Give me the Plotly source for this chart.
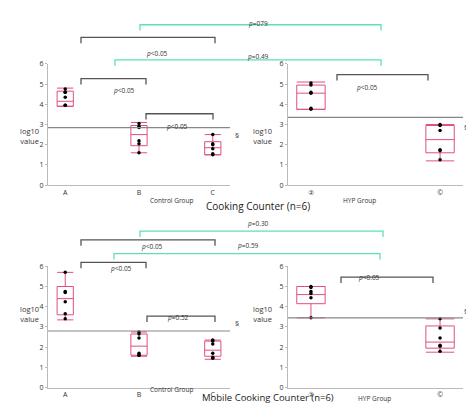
import plotly.graph_objects as go
from plotly.subplots import make_subplots

W, H = 474, 409

ctrl_cats = ["A", "B", "C"]
hyp_cats = ["②", "©"]

# Cooking Counter
cc_ctrl_pts = [[4.75, 4.6, 4.6, 4.35, 3.95, 3.95],
               [3.05, 2.9, 2.85, 2.2, 2.05, 1.6],
               [2.5, 2.05, 2.0, 1.8, 1.55, 1.5]]
cc_ctrl_box = dict(q1=[3.9, 1.95, 1.5], median=[4.15, 2.5, 1.85], q3=[4.65, 2.95, 2.15],
                   lowerfence=[3.9, 1.6, 1.5], upperfence=[4.8, 3.1, 2.5])
cc_hyp_pts = [[5.05, 4.95, 4.6, 4.55, 3.8, 3.75],
              [3.0, 2.95, 2.7, 1.75, 1.7, 1.25]]
cc_hyp_box = dict(q1=[3.75, 1.6], median=[4.55, 2.25], q3=[4.95, 2.95],
                  lowerfence=[3.75, 1.2], upperfence=[5.1, 3.0])
cc_ref = [2.85, 3.35]

# Mobile Cooking Counter
mc_ctrl_pts = [[5.7, 4.75, 4.7, 4.25, 3.65, 3.4],
               [2.75, 2.65, 2.45, 1.7, 1.6, 1.6],
               [2.35, 2.3, 2.15, 1.7, 1.5, 1.45]]
mc_ctrl_box = dict(q1=[3.6, 1.6, 1.55], median=[4.4, 2.05, 1.85], q3=[5.0, 2.65, 2.3],
                   lowerfence=[3.35, 1.55, 1.4], upperfence=[5.7, 2.75, 2.35])
mc_hyp_pts = [[5.0, 4.95, 4.75, 4.65, 4.45, 3.45],
              [3.4, 2.95, 2.45, 2.1, 2.05, 1.8]]
mc_hyp_box = dict(q1=[4.15, 1.95], median=[4.6, 2.25], q3=[5.0, 3.05],
                  lowerfence=[3.45, 1.75], upperfence=[5.0, 3.4])
mc_ref = [2.8, 3.45]

PINK = "#e0507a"
GRAY = "#555555"
TEAL = "#5fe0b8"

fig = make_subplots(rows=2, cols=2)

def panel(row, col, cats, pts, box, ref):
    fig.add_trace(go.Box(x=cats, q1=box["q1"], median=box["median"], q3=box["q3"],
                         lowerfence=box["lowerfence"], upperfence=box["upperfence"],
                         fillcolor="rgba(0,0,0,0)", line=dict(color=PINK, width=1),
                         width=0.22, whiskerwidth=1, boxpoints=False, showlegend=False),
                  row=row, col=col)
    xs = [c for c, p in zip(cats, pts) for _ in p]
    ys = [v for p in pts for v in p]
    fig.add_trace(go.Scatter(x=xs, y=ys, mode="markers", showlegend=False,
                             marker=dict(color="black", size=3.5)), row=row, col=col)
    fig.add_hline(y=ref, line=dict(color="#888888", width=1.2), row=row, col=col)

panel(1, 1, ctrl_cats, cc_ctrl_pts, cc_ctrl_box, cc_ref[0])
panel(1, 2, hyp_cats, cc_hyp_pts, cc_hyp_box, cc_ref[1])
panel(2, 1, ctrl_cats, mc_ctrl_pts, mc_ctrl_box, mc_ref[0])
panel(2, 2, hyp_cats, mc_hyp_pts, mc_hyp_box, mc_ref[1])

def px(x):
    return x / W

def py(y):
    return 1 - y / H

xdom = {1: [px(40), px(222)], 2: [px(280), px(455)]}
ydom = {1: [py(176), py(52)], 2: [py(383), py(259)]}
for r in (1, 2):
    for c in (1, 2):
        fig.update_xaxes(domain=xdom[c], row=r, col=c, showline=True, linecolor="#bbbbbb",
                         ticks="", tickfont=dict(size=7, color="#333"), showgrid=False)
        fig.update_yaxes(domain=ydom[r], row=r, col=c, range=[0, 6], dtick=1,
                         showline=True, linecolor="#bbbbbb", ticks="outside", ticklen=2,
                         tickcolor="#bbbbbb", tickfont=dict(size=7, color="#333"),
                         showgrid=False, zeroline=False)

def text(x, y, s, size=7, color="#333"):
    fig.add_annotation(x=px(x), y=py(y), xref="paper", yref="paper", showarrow=False,
                       text=s, font=dict(size=size, color=color))

def bracket(x0, x1, y, color, label, lx, ly):
    fig.add_shape(type="path", xref="paper", yref="paper",
                  path=f"M {px(x0)},{py(y+6)} L {px(x0)},{py(y)} L {px(x1)},{py(y)} L {px(x1)},{py(y+6)}",
                  line=dict(color=color, width=1.3))
    text(lx, ly, label, 6.5)

pl = "<i>p</i>"
# top panel
bracket(132, 373, 12, TEAL, pl + "=079", 250, 4)
bracket(73, 207, 25, GRAY, pl + "<0.05", 136, 35)
bracket(107, 373, 48, TEAL, pl + "=0.49", 250, 38)
bracket(73, 138, 67, GRAY, pl + "<0.05", 103, 73)
bracket(138, 205, 103, GRAY, pl + "<0.05", 169, 109)
bracket(329, 420, 63, GRAY, pl + "<0.05", 372, 70)
# bottom panel
bracket(132, 375, 223, TEAL, pl + "=0.30", 250, 215)
bracket(73, 207, 232, GRAY, pl + "<0.05", 131, 239)
bracket(106, 372, 246, TEAL, pl + "=0.59", 240, 238)
bracket(73, 138, 255, GRAY, pl + "<0.05", 100, 261)
bracket(139, 207, 310, GRAY, pl + "=0.52", 170, 318)
bracket(333, 425, 270, GRAY, pl + "<0.05", 374, 277)

for dy in (0, 207):
    text(10, 113 + dy, "log10<br>value", 7.5)
    text(254, 113 + dy, "log10<br>value", 7.5)
text(229, 117, "§", 8)
text(229, 324, "§", 8)
text(462, 108, "§", 8)
text(462, 312, "§", 8)
text(140, 192, "Control Group", 6.5)
text(370, 192, "HYP Group", 6.5)
text(140, 392, "Control Group", 6.5)
text(385, 401, "HYP Group", 6.5)
text(250, 197, "Cooking Counter (n=6)", 10, "#222")
text(260, 402, "Mobile Cooking Counter (n=6)", 9.5, "#222")

fig.update_layout(width=W, height=H, margin=dict(l=0, r=0, t=0, b=0),
                  plot_bgcolor="white", paper_bgcolor="white",
                  font=dict(family="Open Sans"))
fig.write_html("out.html")
